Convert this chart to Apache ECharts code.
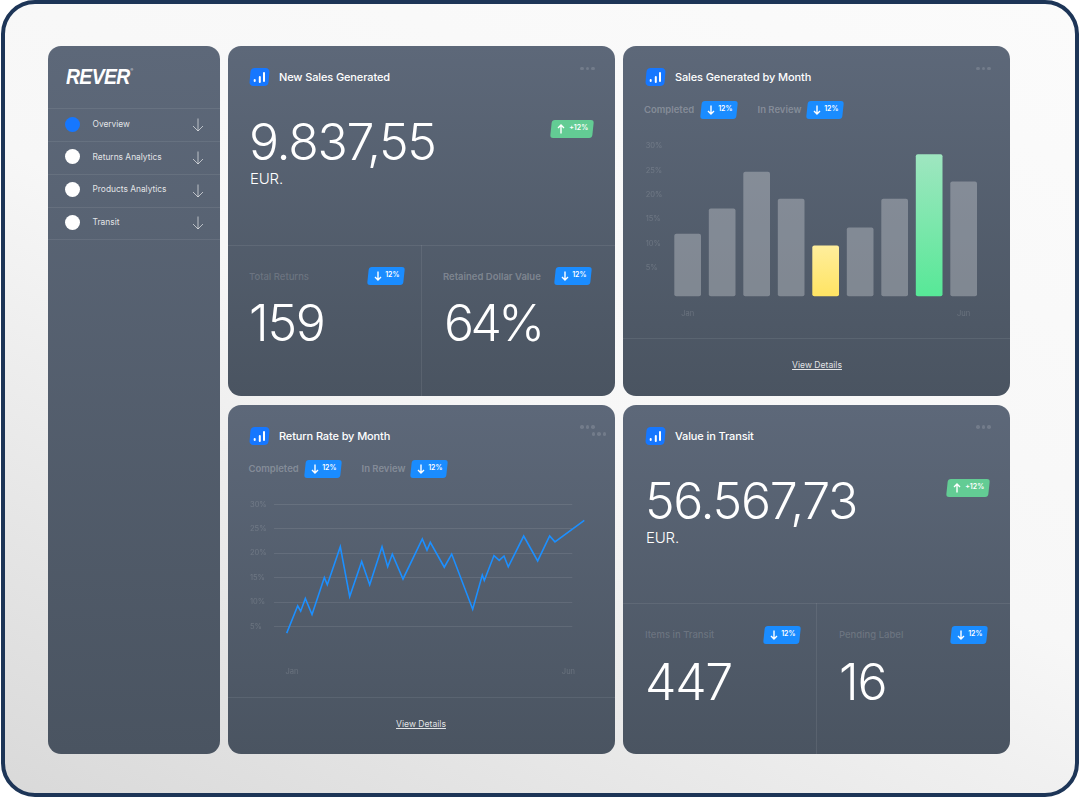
<!DOCTYPE html>
<html>
<head>
<meta charset="utf-8">
<title>Rever dashboard</title>
<script src="https://cdn.jsdelivr.net/npm/echarts@6/dist/echarts.min.js"></script>
<style>
  html, body { margin: 0; padding: 0; background: #fff; }
  body { width: 1080px; height: 797px; overflow: hidden; font-family: Inter, "Noto Sans", sans-serif; color: #fff; }
  #frame { position: absolute; left: 1px; top: 0; width: 1078px; height: 797px; box-sizing: border-box; border: 4px solid #1d3557; border-radius: 34px;
    background: linear-gradient(205deg, #fbfbfb 0%, #f7f7f7 50%, #d9d9d9 100%); }
  .panel { position: absolute; border-radius: 13px; background: linear-gradient(180deg, #5d6879 0%, #4a5461 100%); }
  .abs { position: absolute; white-space: nowrap; line-height: 1; }
  .title { font-size: 11px; font-weight: 500; letter-spacing: -.12px; }
  .big { font-family: Inter; font-weight: 300; font-size: 50px; letter-spacing: -1.3px; }
  .big.tight { letter-spacing: -3.6px; }
  .unit { font-size: 15px; font-weight: 300; letter-spacing: -.2px; }
  .sub { font-size: 9.5px; font-weight: 600; color: rgba(255,255,255,.27); }
  .sub.dim { font-weight: 500; color: rgba(255,255,255,.17); }
  .nav { font-size: 8.4px; color: rgba(255,255,255,.85); }
  .details { font-size: 8.6px; color: rgba(255,255,255,.85); text-decoration: underline; transform: translateX(-50%); }
  .hline { position: absolute; height: 1px; background: rgba(255,255,255,.08); }
  .vline { position: absolute; width: 1px; background: rgba(255,255,255,.08); }
  .pill { position: absolute; height: 18px; border-radius: 3px; transform: skewX(-6deg); }
  .pill.down { width: 36px; background: #1a8cff; }
  .pill.up { width: 42px; background: #63cc94; }
  .pill span { position: absolute; top: 4px; font-size: 7px; font-weight: 600; line-height: 1; transform: skewX(6deg); }
  .pill svg { position: absolute; left: 6px; top: 4px; transform: skewX(6deg); }
  .icon { position: absolute; width: 19px; height: 18px; border-radius: 4px; background: #1677ff; transform: skewX(-5deg); }
  .icon i { position: absolute; bottom: 4px; width: 2.4px; background: #fff; border-radius: 1px; transform: skewX(5deg); }
  .dot { position: absolute; width: 3.6px; height: 3.6px; border-radius: 50%; background: rgba(255,255,255,.14); }
  .bullet { position: absolute; width: 15px; height: 15px; border-radius: 50%; background: #fff; }
  .chart { position: absolute; }
</style>
</head>
<body>
<div id="frame"></div>
<div id="page"></div>
<div class="chart" id="salesChart" style="left:623px;top:46px;width:387px;height:350px"></div>
<div class="chart" id="returnChart" style="left:228px;top:405px;width:387px;height:349px"></div>

<script>
const salesMonths = ['Jan', '', '', '', '', '', '', '', 'Jun'];
const salesValues = [12.8, 18, 25.5, 20, 10.4, 14.1, 20, 29.1, 23.5];
const salesHighlights = { 4: 'yellow', 7: 'green' };

const returnMonthPos = [0.904, 1.103, 1.157, 1.241, 1.362, 1.585, 1.639, 1.874, 2.044, 2.261, 2.406, 2.629, 2.732, 2.815, 3.009, 3.358,
  3.443, 3.503, 3.756, 3.89, 4.27, 4.444, 4.48, 4.655, 4.751, 4.837, 4.914, 5.193, 5.446, 5.663, 5.759, 6.29];
const returnValues = [3.6, 9.2, 8.1, 10.7, 7.4, 15, 13.5, 21.3, 11.1, 18.3, 13.5, 21.3, 17.2, 19.8, 14.7, 22.9,
  20.6, 22.2, 17.1, 19.8, 8.5, 15.5, 14.4, 19.5, 18.5, 19.4, 17.2, 23.5, 18.4, 23.5, 22.3, 26.7];
const returnMonthNames = { 1: 'Jan', 6: 'Jun' };

const navItems = ['Overview', 'Returns Analytics', 'Products Analytics', 'Transit'];

// page chrome
const arrow = (dir, c) => `<svg width="8" height="10" viewBox="0 0 8 10"><path d="${dir === 'up' ? 'M4 9.5V1M1 4l3-3 3 3' : 'M4 .5V9M1 6l3 3 3-3'}" fill="none" stroke="${c}" stroke-width="1.4"/></svg>`;

function panel(x, y, w, h) { return `<div class="panel" style="left:${x}px;top:${y}px;width:${w}px;height:${h}px"></div>`; }
function text(cls, x, y, s) { return `<div class="abs ${cls}" style="left:${x}px;top:${y}px">${s}</div>`; }
function hline(x, y, w) { return `<div class="hline" style="left:${x}px;top:${y}px;width:${w}px"></div>`; }
function vline(x, y, h) { return `<div class="vline" style="left:${x}px;top:${y}px;height:${h}px"></div>`; }
function pillDown(x, y) { return `<div class="pill down" style="left:${x}px;top:${y}px">${arrow('down', '#fff')}<span style="left:17px">12%</span></div>`; }
function pillUp(x, y) { return `<div class="pill up" style="left:${x}px;top:${y}px">${arrow('up', '#fff')}<span style="left:18px">+12%</span></div>`; }
function dots(x, y) { return [0, 5.7, 11.4].map(d => `<div class="dot" style="left:${x + d}px;top:${y}px"></div>`).join(''); }
function icon(x, y) {
  return `<div class="icon" style="left:${x}px;top:${y}px"><i style="left:4px;height:3px"></i><i style="left:8.5px;height:6.5px"></i><i style="left:13px;height:10px"></i></div>`;
}
function head(x, y, s) { return icon(x, y) + text('title', x + 29, y + 4, s); }

let html = '';
// sidebar
html += panel(48, 46, 172, 708);
html += `<div class="abs" style="left:66px;top:64px;font:italic 800 22px 'Liberation Sans';letter-spacing:-.7px;transform:scaleX(.88);transform-origin:left">REVER<span style="font-size:4px;vertical-align:13px;font-style:normal;font-weight:400;margin-left:1px">®</span></div>`;
[108, 141, 173.5, 206.5, 239].forEach(y => { html += hline(48, y, 172); });
navItems.forEach((name, i) => {
  const cy = 124 + i * 32.8;
  html += `<div class="bullet" style="left:65px;top:${cy - 7.5}px;${i === 0 ? 'background:#1677ff' : ''}"></div>`;
  html += text('nav', 92.5, cy - 4.2, name);
  html += `<svg style="position:absolute;left:192px;top:${cy - 6}px" width="12" height="14" viewBox="0 0 12 14"><path d="M6 .5V13M1 8l5 5 5-5" fill="none" stroke="rgba(255,255,255,.75)" stroke-width=".8"/></svg>`;
});

// new sales card
html += panel(228, 46, 387, 350);
html += head(250, 68, 'New Sales Generated') + dots(580, 66.5);
html += text('big', 249, 117, '9.837,55') + text('unit', 250, 171, 'EUR.');
html += pillUp(551, 120);
html += hline(228, 245, 387) + vline(421, 245, 151);
html += text('sub dim', 249, 271.5, 'Total Returns') + pillDown(368, 267);
html += text('sub', 443, 271.5, 'Retained Dollar Value') + pillDown(555, 267);
html += text('big', 249, 298, '159') + text('big tight', 444, 298, '64%');

// sales by month card
html += panel(623, 46, 387, 350);
html += head(646, 68, 'Sales Generated by Month') + dots(976, 66.5);
html += text('sub', 644, 105, 'Completed') + pillDown(701, 101);
html += text('sub', 757.5, 105, 'In Review') + pillDown(807, 101);
html += hline(623, 338, 387);
html += `<div class="abs details" style="left:817px;top:361px">View Details</div>`;

// return rate card
html += panel(228, 405, 387, 349);
html += head(250, 426.5, 'Return Rate by Month') + dots(580, 425) + dots(591.5, 432);
html += text('sub', 248.5, 463.5, 'Completed') + pillDown(305, 459.5);
html += text('sub', 361.5, 463.5, 'In Review') + pillDown(411, 459.5);
html += hline(228, 697, 387);
html += `<div class="abs details" style="left:421px;top:719.5px">View Details</div>`;

// value in transit card
html += panel(623, 405, 387, 349);
html += head(646, 426.5, 'Value in Transit') + dots(976, 425);
html += text('big', 645, 476, '56.567,73') + text('unit', 646, 529.5, 'EUR.');
html += pillUp(947, 478.5);
html += hline(623, 603, 387) + vline(816, 603, 151);
html += text('sub dim', 645, 630, 'Items in Transit') + pillDown(764, 626);
html += text('sub dim', 839, 630, 'Pending Label') + pillDown(951, 626);
html += text('big', 645, 656.5, '447') + text('big', 839, 656.5, '16');

document.getElementById('page').innerHTML = html;

// charts
const tickLabel = { color: 'rgba(255,255,255,.15)', fontSize: 7.5, fontFamily: 'Inter' };

const salesChart = echarts.init(document.getElementById('salesChart'), null, { renderer: 'canvas' });
salesChart.setOption({
  animation: false,
  backgroundColor: 'transparent',
  grid: { left: 47.4, top: 103.9, width: 310.5, height: 146.4 },
  xAxis: {
    type: 'category',
    data: salesMonths,
    axisLine: { show: false },
    axisTick: { show: false },
    axisLabel: Object.assign({ interval: 0, margin: 13 }, tickLabel)
  },
  yAxis: {
    type: 'value',
    min: 0,
    max: 30,
    interval: 5,
    splitLine: { show: false },
    axisLine: { show: false },
    axisTick: { show: false },
    axisLabel: Object.assign({
      align: 'left',
      verticalAlign: 'bottom',
      margin: 24.7,
      formatter: v => v === 0 ? '' : v + '%'
    }, tickLabel)
  },
  series: [{
    type: 'bar',
    barWidth: 26.7,
    data: salesValues.map((v, i) => ({ value: v, itemStyle: barStyle(salesHighlights[i]) }))
  }]
});

function barStyle(kind) {
  const stops = {
    yellow: ['#ffee9c', '#ffe463'],
    green: ['#9fe6c0', '#57e897']
  }[kind];
  if (!stops) return { color: 'rgba(255,255,255,.28)', borderRadius: 2 };
  return {
    borderRadius: 2,
    color: new echarts.graphic.LinearGradient(0, 0, 0, 1, [
      { offset: 0, color: stops[0] },
      { offset: 1, color: stops[1] }
    ])
  };
}

// the line runs past the end of the gridlines, so it sits on a second, wider grid
const returnChart = echarts.init(document.getElementById('returnChart'), null, { renderer: 'canvas' });
returnChart.setOption({
  animation: false,
  backgroundColor: 'transparent',
  grid: [
    { left: 46, top: 99.3, width: 298.3, height: 146.4 },
    { left: 46, top: 99.3, width: 321.9, height: 146.4 }
  ],
  xAxis: [
    {
      type: 'value',
      gridIndex: 0,
      min: 0.674,
      max: 6.07,
      splitLine: { show: false },
      axisLine: { show: false },
      axisTick: { show: false },
      axisLabel: Object.assign({
        customValues: [1, 6],
        margin: 17,
        formatter: v => returnMonthNames[v] || ''
      }, tickLabel)
    },
    { type: 'value', gridIndex: 1, min: 0.674, max: 6.5, show: false }
  ],
  yAxis: [
    {
      type: 'value',
      gridIndex: 0,
      min: 0,
      max: 30,
      interval: 5,
      splitLine: { showMinLine: false, lineStyle: { color: 'rgba(255,255,255,.09)', width: 1 } },
      axisLine: { show: false },
      axisTick: { show: false },
      axisLabel: Object.assign({
        align: 'left',
        margin: 24,
        formatter: v => v === 0 ? '' : v + '%'
      }, tickLabel)
    },
    { type: 'value', gridIndex: 1, min: 0, max: 30, show: false }
  ],
  series: [{
    type: 'line',
    xAxisIndex: 1,
    yAxisIndex: 1,
    symbol: 'none',
    data: returnMonthPos.map((x, i) => [x, returnValues[i]]),
    lineStyle: { color: '#1c8fff', width: 1.6, join: 'miter' }
  }]
});
</script>
</body>
</html>
